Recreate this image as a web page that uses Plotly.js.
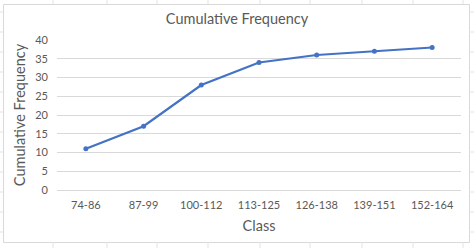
<!DOCTYPE html>
<html>
<head>
<meta charset="utf-8">
<script src="https://cdn.plot.ly/plotly-3.0.1.min.js"></script>
<style>
  html, body { margin: 0; padding: 0; background: #ffffff; }
  #chart { width: 474px; height: 248px; }
</style>
</head>
<body>
<div id="chart"></div>
<script>
// Class intervals and their cumulative frequencies
const classes = ["74-86", "87-99", "100-112", "113-125", "126-138", "139-151", "152-164"];
const cumulativeFrequency = [11, 17, 28, 34, 36, 37, 38];
const yTicks = [0, 5, 10, 15, 20, 25, 30, 35, 40];

const W = 474, H = 248;
const M = { l: 57, r: 13, t: 40, b: 58 };
const plotW = W - M.l - M.r, plotH = H - M.t - M.b;
// pixel -> paper helpers for the decorative frame
const px = x => (x - M.l) / plotW;
const py = y => (H - M.b - y) / plotH;

const shapes = [];
// light sheet grid around the chart frame
const colX = [53, 107, 157, 208, 260, 310, 362, 413, 463];
colX.forEach(x => {
  shapes.push({ type: "line", xref: "paper", yref: "paper", x0: px(x), x1: px(x), y0: py(0), y1: py(4), line: { color: "#e3e3e3", width: 1 } });
  shapes.push({ type: "line", xref: "paper", yref: "paper", x0: px(x), x1: px(x), y0: py(242), y1: py(248), line: { color: "#e3e3e3", width: 1 } });
});
for (let y = 12; y < 248; y += 20) {
  shapes.push({ type: "line", xref: "paper", yref: "paper", x0: px(0), x1: px(3), y0: py(y), y1: py(y), line: { color: "#e3e3e3", width: 1 } });
  shapes.push({ type: "line", xref: "paper", yref: "paper", x0: px(469), x1: px(474), y0: py(y), y1: py(y), line: { color: "#e3e3e3", width: 1 } });
}
// chart frame
shapes.push({ type: "rect", xref: "paper", yref: "paper", x0: px(3.5), x1: px(469.5), y0: py(4.5), y1: py(242.5), line: { color: "#d9d9d9", width: 1 }, fillcolor: "rgba(0,0,0,0)", layer: "below" });

const trace = {
  x: classes,
  y: cumulativeFrequency,
  type: "scatter",
  mode: "lines+markers",
  line: { color: "#4472c4", width: 2.25 },
  marker: { color: "#4472c4", size: 5 },
  hoverinfo: "x+y"
};

const font = "Lato, 'Open Sans', sans-serif";
const layout = {
  width: W, height: H,
  margin: M,
  paper_bgcolor: "#ffffff",
  plot_bgcolor: "#ffffff",
  showlegend: false,
  font: { family: font, color: "#595959", size: 11 },
  title: { text: "Cumulative Frequency", font: { family: font, size: 14.5, color: "#595959" }, x: 0.5, xanchor: "center", y: 1 - 19 / H, yanchor: "middle" },
  xaxis: {
    type: "category",
    range: [-0.5, classes.length - 0.5],
    showgrid: false,
    showline: true, linecolor: "#d9d9d9", linewidth: 1,
    ticks: "", ticklen: 0,
    ticklabelstandoff: 5,
    tickfont: { family: font, size: 11, color: "#595959" },
    title: { text: "Class", font: { family: font, size: 14.5, color: "#595959" }, standoff: 10 },
    zeroline: false, fixedrange: true
  },
  yaxis: {
    range: [0, 40],
    tickvals: yTicks,
    showgrid: true, gridcolor: "#d9d9d9", gridwidth: 1,
    showline: false, zeroline: false,
    ticks: "", ticklen: 0,
    ticklabelstandoff: 8,
    tickfont: { family: font, size: 11, color: "#595959" },
    title: { text: "Cumulative Frequency", font: { family: font, size: 14.5, color: "#595959" }, standoff: 6 },
    fixedrange: true
  },
  shapes: shapes
};

Plotly.newPlot("chart", [trace], layout, { staticPlot: true, displayModeBar: false });
</script>
</body>
</html>
